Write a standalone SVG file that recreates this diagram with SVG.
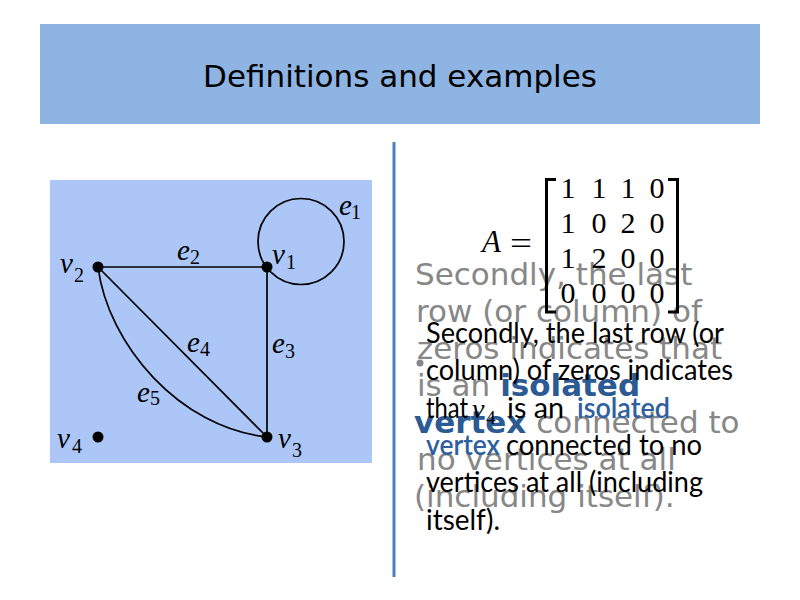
<svg xmlns="http://www.w3.org/2000/svg" width="800" height="600" viewBox="0 0 800 600">
<style>
.lbl{font-family:"Liberation Serif",serif;font-style:italic;font-size:29px;fill:#000}
.sub{font-family:"Liberation Serif",serif;font-style:normal;font-size:20px;fill:#000}
.edge{fill:none;stroke:#000;stroke-width:1.7}
.node{fill:#000}
.gray{font-family:"DejaVu Sans",sans-serif;font-size:31px;fill:#878787}
.gb{font-weight:bold;fill:#2c5a93}
.blk{font-family:Lato,"Open Sans",sans-serif;font-size:29px;fill:#000}
.bl{fill:#2e5f9e;font-weight:600}
.mx{font-family:"Liberation Serif",serif;font-size:30px;fill:#000;text-anchor:middle}
.br{fill:none;stroke:#000;stroke-width:3}
</style>
<rect width="800" height="600" fill="#fff"/>
<g id="header">
<rect x="40" y="24" width="720" height="100" fill="#8eb4e3"/>
<text x="400" y="87" text-anchor="middle" font-family="DejaVu Sans,sans-serif" font-size="31" fill="#000">Definitions and examples</text>
</g>
<line id="divider" x1="394" y1="142" x2="394" y2="577" stroke="#4f81bd" stroke-width="3"/>
<g id="graph">
<rect x="50" y="180" width="322" height="283" fill="#abc6f7"/>
<g id="connectors">
<circle class="edge" cx="301" cy="241.5" r="43"/>
<line class="edge" x1="98" y1="267" x2="267" y2="267"/>
<line class="edge" x1="267" y1="267" x2="267" y2="437"/>
<line class="edge" x1="98" y1="267" x2="267" y2="437"/>
<path class="edge" d="M98,267 C108,345 180,428 267,437"/>
</g>
<g id="v1"><circle class="node" cx="267" cy="267" r="5.5"/><text class="lbl" x="272" y="264">v</text><text class="sub" x="286" y="269">1</text></g>
<g id="v2"><circle class="node" cx="98" cy="267" r="5.5"/><text class="lbl" x="60" y="273">v</text><text class="sub" x="74" y="282">2</text></g>
<g id="v3"><circle class="node" cx="267" cy="437" r="5.5"/><text class="lbl" x="278" y="448">v</text><text class="sub" x="292" y="457">3</text></g>
<g id="v4"><circle class="node" cx="98" cy="437" r="5.5"/><text class="lbl" x="57" y="448">v</text><text class="sub" x="72" y="453">4</text></g>
<g id="labels">
<text class="lbl" x="339" y="215">e</text><text class="sub" x="351" y="219">1</text>
<text class="lbl" x="177" y="260">e</text><text class="sub" x="190" y="264">2</text>
<text class="lbl" x="272" y="353">e</text><text class="sub" x="285" y="358">3</text>
<text class="lbl" x="187" y="352">e</text><text class="sub" x="200" y="356">4</text>
<text class="lbl" x="137" y="402">e</text><text class="sub" x="150" y="405">5</text>
</g>
</g>
<g id="grayText">
<circle cx="420" cy="363" r="3.5" fill="#878787"/>
<text class="gray" x="415" y="285">Secondly, the last</text>
<text class="gray" x="416" y="322">row (or column) of</text>
<text class="gray" x="417" y="359">zeros indicates that</text>
<text class="gray" x="417" y="396">is an <tspan class="gb">isolated</tspan></text>
<text class="gray" x="414" y="433"><tspan class="gb">vertex</tspan> connected to</text>
<text class="gray" x="417" y="470">no vertices at all</text>
<text class="gray" x="414" y="507">(including itself).</text>
</g>
<g id="matrix">
<text x="482" y="252" font-family="Liberation Serif,serif" font-style="italic" font-size="31">A</text>
<text x="510" y="254" font-family="Liberation Serif,serif" font-size="32" textLength="22" lengthAdjust="spacingAndGlyphs">=</text>
<path class="br" d="M556,179.5 H546.5 V312 H556"/>
<path class="br" d="M668,179.5 H677.5 V312 H668"/>
<text class="mx" y="198"><tspan x="568">1</tspan><tspan x="599">1</tspan><tspan x="628">1</tspan><tspan x="657">0</tspan></text>
<text class="mx" y="233"><tspan x="568">1</tspan><tspan x="599">0</tspan><tspan x="628">2</tspan><tspan x="657">0</tspan></text>
<text class="mx" y="268"><tspan x="568">1</tspan><tspan x="599">2</tspan><tspan x="628">0</tspan><tspan x="657">0</tspan></text>
<text class="mx" y="303"><tspan x="568">0</tspan><tspan x="599">0</tspan><tspan x="628">0</tspan><tspan x="657">0</tspan></text>
</g>
<g id="blackText">
<text class="blk" x="426" y="343" textLength="298" lengthAdjust="spacingAndGlyphs">Secondly, the last row (or</text>
<text class="blk" x="426" y="380" textLength="307" lengthAdjust="spacingAndGlyphs">column) of zeros indicates</text>
<text class="blk" x="426" y="418" textLength="42" lengthAdjust="spacingAndGlyphs">that</text>
<text x="472" y="418" font-family="Liberation Serif,serif" font-style="italic" font-size="28">v</text>
<text x="486" y="424" font-family="Liberation Serif,serif" font-size="19">4</text>
<text class="blk" x="507" y="418" textLength="57" lengthAdjust="spacingAndGlyphs">is an</text>
<text class="blk bl" x="577" y="418" textLength="93" lengthAdjust="spacingAndGlyphs">isolated</text>
<text class="blk bl" x="426" y="455" textLength="74" lengthAdjust="spacingAndGlyphs">vertex</text>
<text class="blk" x="506" y="455" textLength="196" lengthAdjust="spacingAndGlyphs">connected to no</text>
<text class="blk" x="426" y="492" textLength="277" lengthAdjust="spacingAndGlyphs">vertices at all (including</text>
<text class="blk" x="426" y="530" textLength="74" lengthAdjust="spacingAndGlyphs">itself).</text>
</g>
</svg>
